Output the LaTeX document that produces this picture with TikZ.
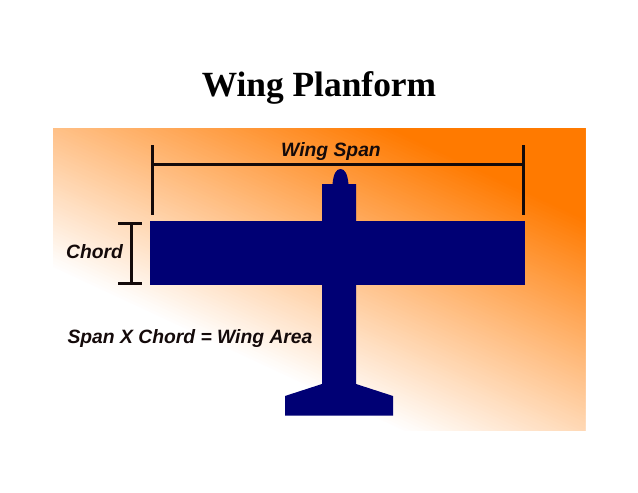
\documentclass[tikz,border=0pt]{standalone}
\usepackage{fontspec}
\setmainfont{Liberation Serif}
\newfontfamily\labelfont{Liberation Sans}
\definecolor{planeblue}{HTML}{000074}
\definecolor{bgorange}{HTML}{FF7A00}
\definecolor{inkline}{HTML}{140A0A}
\tikzset{
  titletext/.style={font=\fontsize{35.4}{40}\selectfont\bfseries,text=black,inner sep=0pt},
  dimtext/.style={font=\labelfont\fontsize{19.3}{22}\selectfont\bfseries\itshape,text=inkline,inner sep=0pt},
  dimline/.style={draw=inkline,line width=3pt},
  planeshape/.style={fill=planeblue,draw=none}
}
\begin{document}
\begin{tikzpicture}[x=1pt,y=-1pt]
\useasboundingbox (0,0) rectangle (638,493);
\fill[white] (0,0) rectangle (638,493);
% background panel with a diagonal gradient, built of overlapping bands
\begin{scope}
  \clip (53,128) rectangle (585,430);
  \fill[white] (53,128) rectangle (585,430);
  \begin{scope}[shift={(53,270)},rotate=65]
    \foreach \t in {0,3,...,270}{
      \pgfmathsetmacro{\p}{\t/2.7}
      \fill[bgorange!\p!white] (\t,-900) rectangle (700,900);
    }
  \end{scope}
\end{scope}
% aeroplane
\fill[planeshape] (150,221) rectangle (525,285);
\fill[planeshape] (322,184) -- (332.5,184) .. controls (333.5,174) and (336,169) .. (340.5,169)
  .. controls (345,169) and (347.5,174) .. (348.5,184) -- (356,184) -- (356,384)
  -- (393,396) -- (393,415.5) -- (285,415.5) -- (285,396) -- (322,384) -- cycle;
% dimension marks
\coordinate (spanLtop) at (152,145);
\coordinate (spanLbot) at (152,215);
\coordinate (spanRtop) at (523,145);
\coordinate (spanRbot) at (523,215);
\coordinate (spanL) at (152,164);
\coordinate (spanR) at (523,164);
\coordinate (chordTL) at (118,223);
\coordinate (chordTR) at (142,223);
\coordinate (chordBL) at (118,283);
\coordinate (chordBR) at (142,283);
\coordinate (chordT) at (131,223);
\coordinate (chordB) at (131,283);
\draw[dimline] (spanLtop) -- (spanLbot);
\draw[dimline] (spanRtop) -- (spanRbot);
\draw[dimline] (spanL) -- (spanR);
\draw[dimline] (chordTL) -- (chordTR);
\draw[dimline] (chordBL) -- (chordBR);
\draw[dimline] (chordT) -- (chordB);
% texts
\node[titletext] (title) at (319,88) {Wing Planform};
\node[dimtext] (span) at (331,151.5) {Wing Span};
\node[dimtext] (chord) at (94.5,252) {Chord};
\node[dimtext] (area) at (190,338.5) {Span X Chord = Wing Area};
\end{tikzpicture}
\end{document}
